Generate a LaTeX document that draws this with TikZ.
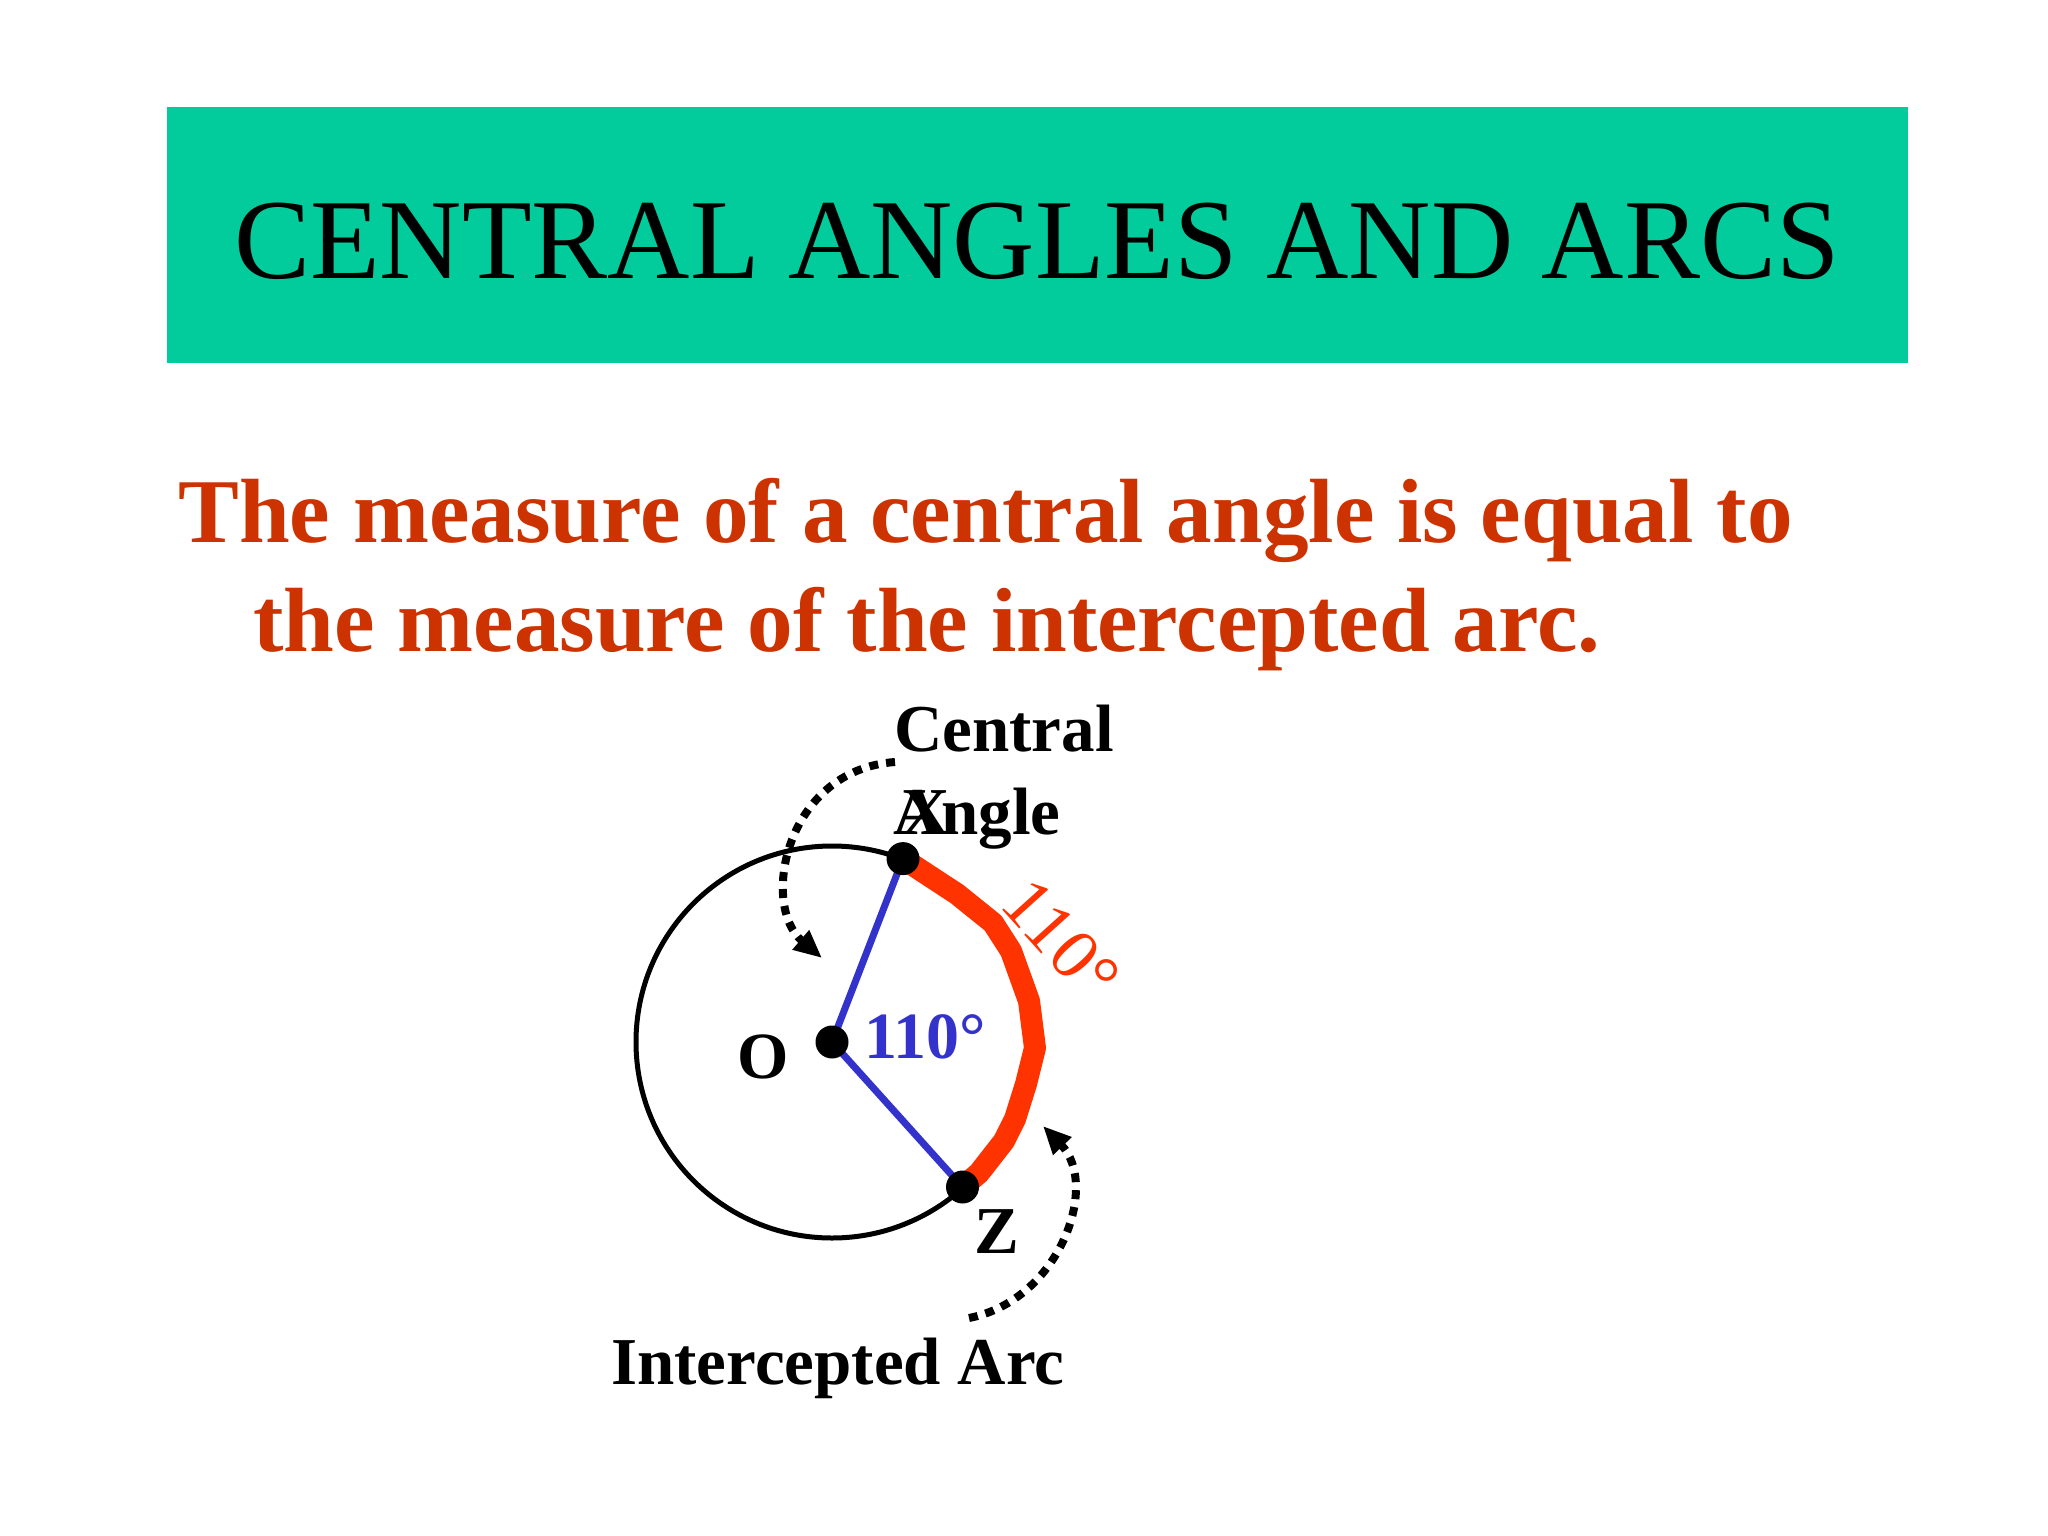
\documentclass[tikz,border=0pt]{standalone}
\usepackage{fontspec}
\setmainfont{Liberation Serif}
\usetikzlibrary{arrows.meta}
\definecolor{teal1}{HTML}{03CC9C}
\definecolor{redtxt}{HTML}{CC3300}
\definecolor{redarc}{HTML}{FF3300}
\definecolor{blue1}{HTML}{3333CC}
\newcommand\myfs[1]{\fontsize{#1}{#1}\selectfont}
\tikzset{
  dot/.style={circle,fill=black,inner sep=0pt,minimum size=33pt},
  lbl/.style={inner sep=0pt,font=\myfs{67}\bfseries},
  dotarrow/.style={line width=8pt,dash pattern=on 9pt off 8pt,-{Triangle[length=28pt,width=24pt]}},
  blueline/.style={draw=blue1,line width=7pt},
}
\begin{document}
\begin{tikzpicture}[x=1pt,y=-1pt]
\useasboundingbox (0,0) rectangle (2048,1536);
\fill[white] (0,0) rectangle (2048,1536);
% title
\node[fill=teal1,minimum width=1741pt,minimum height=256pt,inner sep=0pt,anchor=north west] (titlebox) at (167,107) {};
\node[inner sep=0pt,anchor=base,font=\myfs{114}] (title) at (1037,278) {CENTRAL ANGLES AND ARCS};
% statement
\node[inner sep=0pt,anchor=base west,text=redtxt,font=\myfs{91.2}\bfseries] (line1) at (178,542) {The measure of a central angle is equal to};
\node[inner sep=0pt,anchor=base west,text=redtxt,font=\myfs{91.2}\bfseries] (line2) at (253,651) {the measure of the intercepted arc.};
% circle
\coordinate (Oc) at (832,1042);
\draw[line width=5pt] (Oc) circle[radius=196pt];
\coordinate (Xc) at (903,858.6);
\coordinate (Zc) at (962.5,1187);
\draw[redarc,line width=22pt,line join=round] (Xc) -- (957,894) -- (993,923) -- (1011,951) -- (1029,1001) -- (1035,1048) -- (1026,1084) -- (1015,1119) -- (1004,1141) -- (979,1173) -- (Zc);
\draw[blueline] (Oc) -- (Xc);
\draw[blueline] (Oc) -- (Zc);
\node[dot] (O) at (Oc) {};
\node[dot] (X) at (Xc) {};
\node[dot] (Z) at (Zc) {};
% labels
\node[lbl,anchor=base west] (central) at (894,751) {Central};
\node[lbl,anchor=base west] (angle) at (893,834) {Angle};
\node[lbl,anchor=base] (Xl) at (926,834) {X};
\node[lbl,anchor=base,font=\myfs{66}\bfseries] (Ol) at (763,1078) {O};
\node[lbl,anchor=base west,text=blue1,font=\myfs{66}\bfseries] (ang) at (864,1058) {110°};
\node[lbl,anchor=base] (Zl) at (997,1253) {Z};
\node[lbl,anchor=base west,font=\myfs{67}\bfseries] (inter) at (611,1384) {Intercepted Arc};
\node[inner sep=0pt,text=redarc,font=\myfs{72},rotate=-48] (arcl) at (1061,940) {110°};
% dotted arrows
\coordinate (a1s) at (895,762);
\coordinate (a1e) at (822,958);
\draw[dotarrow] (a1s) .. controls (785,770) and (760,905) .. (a1e);
\coordinate (a2s) at (969,1318);
\coordinate (a2e) at (1043,1126);
\draw[dotarrow] (a2s) .. controls (1060,1300) and (1100,1185) .. (a2e);
\end{tikzpicture}
\end{document}
